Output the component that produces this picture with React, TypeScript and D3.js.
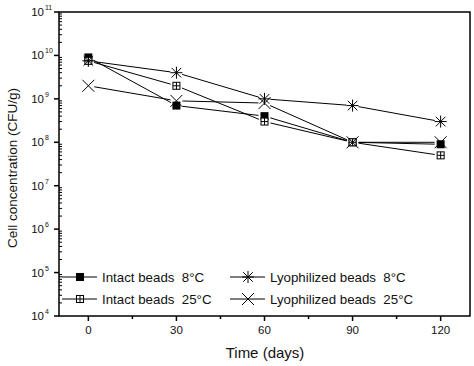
import React from 'react';
import * as d3 from 'd3';

const days = [0, 30, 60, 90, 120];
const intact8 = [9e9, 7e8, 4e8, 1e8, 9e7];
const intact25 = [7.5e9, 2e9, 3e8, 1e8, 5e7];
const lyo8 = [7.5e9, 4e9, 1e9, 7e8, 3e8];
const lyo25 = [2e9, 9e8, 8e8, 1e8, 1e8];
const xTicks = [0, 30, 60, 90, 120];
const xMinor = [15, 45, 75, 105];
const yExp = [4, 5, 6, 7, 8, 9, 10, 11];

const W = 474;
const H = 366;
const left = 59;
const right = 470;
const top = 12;
const bottom = 316;
const font = 'Arial, "Liberation Sans", sans-serif';
const ink = '#111';

const x = d3.scaleLinear().domain([-10, 130]).range([left, right]);
const y = d3.scaleLog().domain([1e4, 1e11]).range([bottom, top]);

type Kind = 'filled' | 'plus' | 'star' | 'cross';

const Marker = ({ kind, cx, cy }: { kind: Kind; cx: number; cy: number }) => {
  if (kind === 'filled') {
    return <rect x={cx - 4} y={cy - 4} width={8} height={8} fill="#000" />;
  }
  if (kind === 'plus') {
    return (
      <g stroke="#000" strokeWidth={1} fill="#fff">
        <rect x={cx - 3.5} y={cy - 3.5} width={7} height={7} />
        <line x1={cx} y1={cy - 3.5} x2={cx} y2={cy + 3.5} />
        <line x1={cx - 3.5} y1={cy} x2={cx + 3.5} y2={cy} />
      </g>
    );
  }
  const r = 6;
  if (kind === 'star') {
    const d = r * 0.8;
    return (
      <g stroke="#000" strokeWidth={1}>
        <line x1={cx} y1={cy - r} x2={cx} y2={cy + r} />
        <line x1={cx - r} y1={cy} x2={cx + r} y2={cy} />
        <line x1={cx - d} y1={cy - d} x2={cx + d} y2={cy + d} />
        <line x1={cx - d} y1={cy + d} x2={cx + d} y2={cy - d} />
      </g>
    );
  }
  return (
    <g stroke="#000" strokeWidth={1}>
      <line x1={cx - r} y1={cy - r} x2={cx + r} y2={cy + r} />
      <line x1={cx - r} y1={cy + r} x2={cx + r} y2={cy - r} />
    </g>
  );
};

const Series = ({ values, kind }: { values: number[]; kind: Kind }) => {
  const pts = values.map((v, i) => [x(days[i]), y(v)] as [number, number]);
  const gap = 6;
  const segs = pts.slice(1).map((p, i) => {
    const a = pts[i];
    const dx = p[0] - a[0];
    const dy = p[1] - a[1];
    const len = Math.hypot(dx, dy);
    const ux = dx / len;
    const uy = dy / len;
    return (
      <line
        key={i}
        x1={a[0] + ux * gap}
        y1={a[1] + uy * gap}
        x2={p[0] - ux * gap}
        y2={p[1] - uy * gap}
        stroke="#000"
        strokeWidth={1}
      />
    );
  });
  return (
    <g>
      {segs}
      {pts.map((p, i) => (
        <Marker key={i} kind={kind} cx={p[0]} cy={p[1]} />
      ))}
    </g>
  );
};

const legend: { label: string; kind: Kind; col: number; row: number }[] = [
  { label: 'Intact beads\u00a0\u00a08°C', kind: 'filled', col: 0, row: 0 },
  { label: 'Intact beads\u00a0\u00a025°C', kind: 'plus', col: 0, row: 1 },
  { label: 'Lyophilized beads\u00a0\u00a08°C', kind: 'star', col: 1, row: 0 },
  { label: 'Lyophilized beads\u00a0\u00a025°C', kind: 'cross', col: 1, row: 1 },
];

export default function App() {
  // minor log ticks 2..9 per decade
  const minor: number[] = [];
  for (let e = 4; e < 11; e++) {
    for (let m = 2; m < 10; m++) minor.push(m * Math.pow(10, e));
  }
  return (
    <svg
      width={W}
      height={H}
      style={{ position: 'absolute', left: 0, top: 0, background: '#fff' }}
      fontFamily={font}
    >
      <rect x={left} y={top} width={right - left} height={bottom - top} fill="none" stroke="#000" strokeWidth={1.5} />

      {/* y axis ticks */}
      {yExp.map((e) => (
        <g key={e}>
          <line x1={left - 5} x2={left} y1={y(Math.pow(10, e))} y2={y(Math.pow(10, e))} stroke="#000" strokeWidth={1.5} />
          <text x={left - 15} y={y(Math.pow(10, e)) + 4} fontSize={11.5} textAnchor="end" fill={ink}>
            10
          </text>
          <text x={left - 14} y={y(Math.pow(10, e)) - 2} fontSize={7} textAnchor="start" fill={ink}>
            {e}
          </text>
        </g>
      ))}
      {minor.map((v, i) => (
        <line key={i} x1={left} x2={left + 3} y1={y(v)} y2={y(v)} stroke="#000" strokeWidth={1} />
      ))}

      {/* x axis ticks */}
      {xTicks.map((t) => (
        <g key={t}>
          <line x1={x(t)} x2={x(t)} y1={bottom} y2={bottom + 5} stroke="#000" strokeWidth={1.5} />
          <text x={x(t)} y={bottom + 18} fontSize={11.5} textAnchor="middle" fill={ink}>
            {t}
          </text>
        </g>
      ))}
      {xMinor.map((t) => (
        <line key={t} x1={x(t)} x2={x(t)} y1={bottom} y2={bottom + 3} stroke="#000" strokeWidth={1.5} />
      ))}

      <text x={265} y={358} fontSize={15} textAnchor="middle" fill={ink}>
        Time (days)
      </text>
      <text
        transform="translate(17,168) rotate(-90)"
        fontSize={13.5}
        textAnchor="middle"
        fill={ink}
      >
        Cell concentration (CFU/g)
      </text>

      <Series values={intact8} kind="filled" />
      <Series values={intact25} kind="plus" />
      <Series values={lyo8} kind="star" />
      <Series values={lyo25} kind="cross" />

      {legend.map((l) => {
        const lx = l.col === 0 ? 62 : 230;
        const ly = l.row === 0 ? 277 : 299;
        return (
          <g key={l.label}>
            <line x1={lx} x2={lx + 35} y1={ly} y2={ly} stroke="#000" strokeWidth={1} />
            <Marker kind={l.kind} cx={lx + 18} cy={ly} />
            <text x={lx + 40} y={ly + 5} fontSize={13.3} fill={ink}>
              {l.label}
            </text>
          </g>
        );
      })}
    </svg>
  );
}
